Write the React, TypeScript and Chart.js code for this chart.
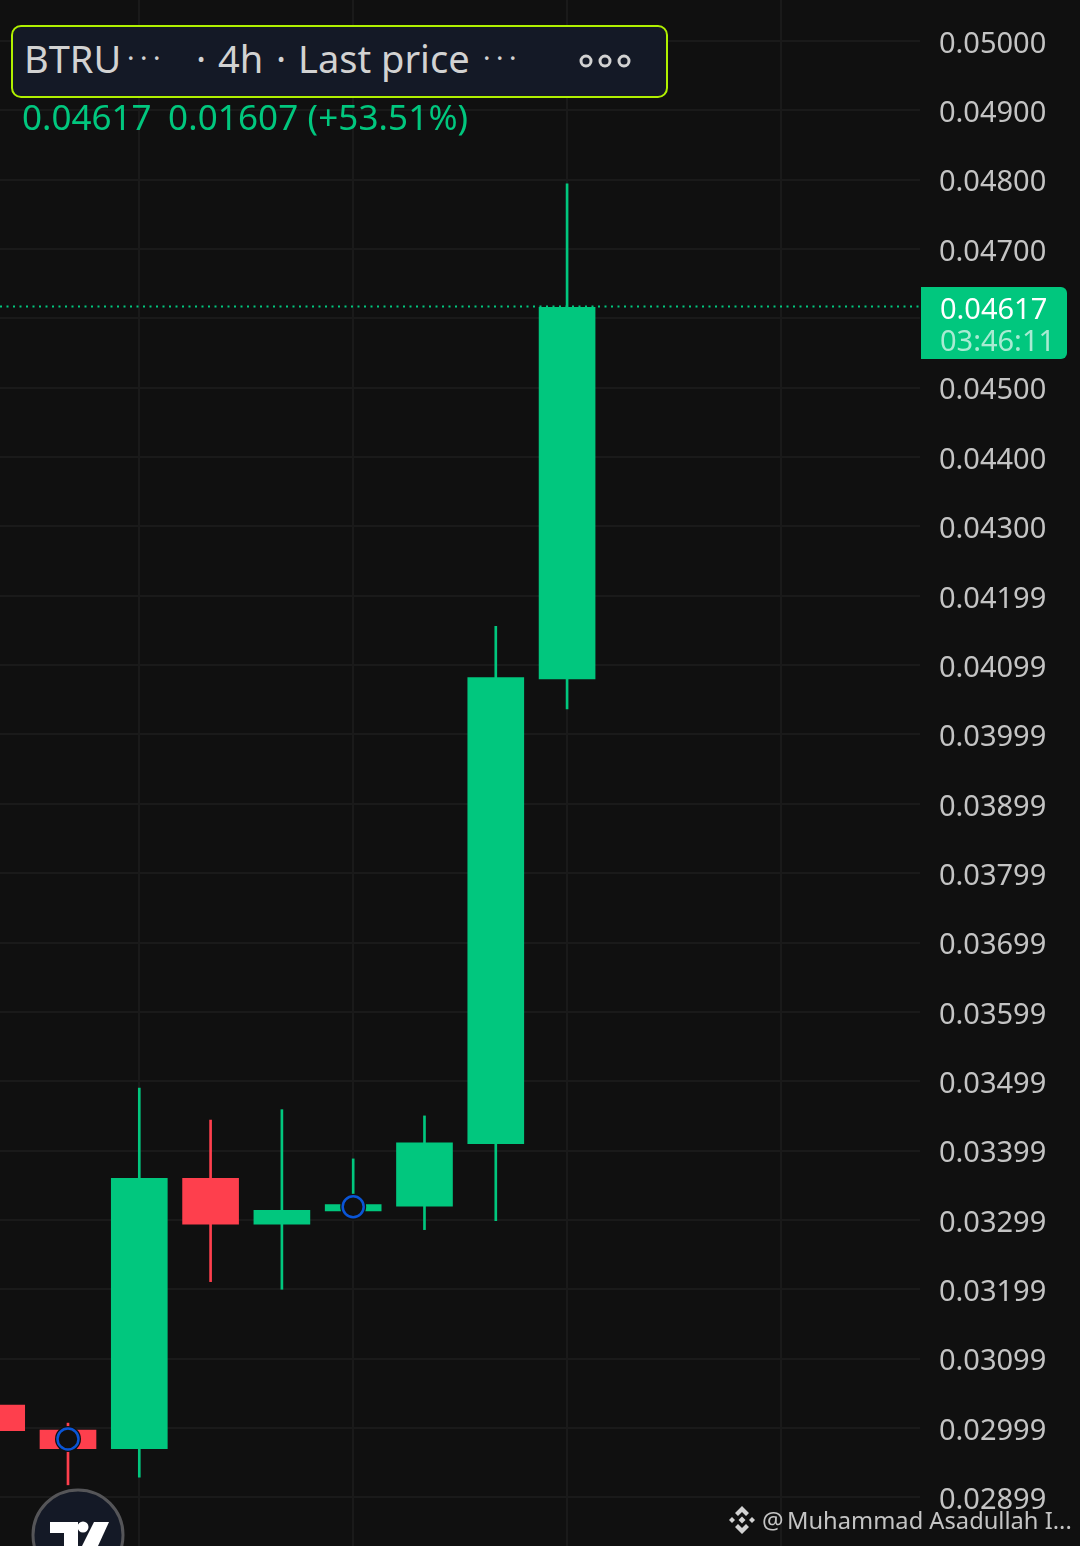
import React, { useEffect, useRef } from "react";
import { Chart, registerables } from "chart.js";

Chart.register(...registerables);

const xs = [-1, 0, 1, 2, 3, 4, 5, 6, 7];
const opens = [0.03033, 0.02997, 0.0297, 0.0336, 0.03294, 0.03313, 0.0332, 0.0341, 0.0408];
const closes = [0.02996, 0.0297, 0.0336, 0.03294, 0.03314, 0.03322, 0.03411, 0.04082, 0.04616];
const highs = [0.03033, 0.03007, 0.0349, 0.03444, 0.03459, 0.03388, 0.0345, 0.04156, 0.04794];
const lows = [0.02996, 0.02918, 0.02929, 0.03211, 0.032, 0.03313, 0.03286, 0.03299, 0.04037];
const markerXs = [0, 4];
const markerYs = [0.02984, 0.03319];
const lastPrice = 0.04617;
const gridXs = [1, 4, 7, 10];
const tickValues = [
  0.05, 0.049, 0.048, 0.047, 0.046, 0.045, 0.044, 0.043, 0.042, 0.041, 0.04, 0.039, 0.038, 0.037,
  0.036, 0.035, 0.034, 0.033, 0.032, 0.031, 0.03, 0.029,
];
const tickLabels = [
  "0.05000", "0.04900", "0.04800", "0.04700", "", "0.04500", "0.04400", "0.04300", "0.04199",
  "0.04099", "0.03999", "0.03899", "0.03799", "0.03699", "0.03599", "0.03499", "0.03399",
  "0.03299", "0.03199", "0.03099", "0.02999", "0.02899",
];

const UP = "#01C77E";
const DOWN = "#FE3F4D";
const BG = "#101010";
const GRID = "#1A1A1A";
const FONT = '"Noto Sans", sans-serif';
const X_MIN = -0.9537;
const X_MAX = 11.95;

const abs = (s: React.CSSProperties): React.CSSProperties => ({
  position: "absolute",
  whiteSpace: "pre",
  fontFamily: FONT,
  ...s,
});

const noPadding = (s: any) => {
  s.paddingTop = 0;
  s.paddingBottom = 0;
  s.paddingLeft = 0;
  s.paddingRight = 0;
};

export default function App() {
  const ref = useRef<HTMLCanvasElement>(null);

  useEffect(() => {
    document.body.style.margin = "0";
    document.body.style.background = BG;
    const colors = xs.map((_, i) => (closes[i] >= opens[i] ? UP : DOWN));
    const chart = new Chart(ref.current!, {
      type: "bar",
      data: {
        datasets: [
          {
            type: "scatter",
            order: 0,
            data: markerXs.map((x, i) => ({ x, y: markerYs[i] })),
            pointRadius: 10.5,
            pointBorderWidth: 2.5,
            pointBorderColor: "#0A55D6",
            pointBackgroundColor: BG,
          },
          {
            type: "scatter",
            order: 1,
            data: markerXs.map((x, i) => ({ x, y: markerYs[i] })),
            pointRadius: 13,
            pointBorderWidth: 0,
            pointBackgroundColor: BG,
          },
          {
            type: "scatter",
            order: 2,
            showLine: true,
            data: [
              { x: X_MIN, y: lastPrice },
              { x: X_MAX, y: lastPrice },
            ],
            pointRadius: 0,
            borderColor: UP,
            borderWidth: 2,
            borderDash: [2, 4.5],
          },
          {
            type: "bar",
            order: 3,
            grouped: false,
            barThickness: 56,
            data: xs.map((x, i) => ({ x, y: [opens[i], closes[i]] })),
            backgroundColor: colors,
          },
          {
            type: "bar",
            order: 4,
            grouped: false,
            barThickness: 2,
            data: xs.map((x, i) => ({ x, y: [lows[i], highs[i]] })),
            backgroundColor: colors,
          },
        ] as any,
      },
      options: {
        responsive: false,
        animation: false,
        layout: { padding: 0, autoPadding: false },
        plugins: { legend: { display: false }, tooltip: { enabled: false } },
        scales: {
          x: {
            type: "linear",
            min: X_MIN,
            max: X_MAX,
            offset: false,
            border: { display: false },
            grid: { color: GRID, lineWidth: 2, offset: false, drawTicks: false },
            ticks: { display: false },
            afterBuildTicks: (s: any) => {
              s.ticks = gridXs.map((value) => ({ value }));
            },
            afterFit: (s: any) => {
              s.height = 0;
              noPadding(s);
            },
          },
          y: {
            type: "linear",
            position: "right",
            min: 0.028298,
            max: 0.050591,
            border: { display: false },
            grid: { color: GRID, lineWidth: 2, drawTicks: false },
            ticks: {
              autoSkip: false,
              padding: 19,
              crossAlign: "near",
              color: "#C4C4C4",
              font: { family: FONT, size: 29 },
              callback: (_v: any, i: number) => tickLabels[i],
            },
            afterBuildTicks: (s: any) => {
              s.ticks = tickValues.map((value) => ({ value }));
              if (!s.__shifted) {
                s.__shifted = true;
                const orig = s._computeLabelItems.bind(s);
                s._computeLabelItems = (area: any) =>
                  orig(area).map((it: any) => ({ ...it, textOffset: it.textOffset + 3.5 }));
              }
            },
            afterFit: (s: any) => {
              s.width = 160;
              noPadding(s);
            },
          },
        },
      } as any,
    });
    return () => chart.destroy();
  }, []);

  const title = { fontSize: 38, lineHeight: "52px", color: "#D2D2D2", top: 32 };
  const dots = { fontSize: 28, lineHeight: "40px", color: "#D2D2D2", letterSpacing: 5.5, top: 37 };
  const price = { top: 93, fontSize: 35, lineHeight: "48px", color: UP };

  return (
    <div style={{ position: "fixed", left: 0, top: 0, width: 1080, height: 1546, overflow: "hidden", background: BG }}>
      <canvas ref={ref} width={1080} height={1546} style={{ display: "block", width: 1080, height: 1546 }} />

      <div
        style={{
          position: "absolute",
          left: 11,
          top: 25,
          width: 653,
          height: 69,
          background: "#141926",
          border: "2px solid #B0F000",
          borderRadius: 10,
        }}
      />
      <span style={abs({ ...title, left: 24 })}>BTRU</span>
      <span style={abs({ ...dots, left: 127 })}>···</span>
      <span style={abs({ ...title, left: 196 })}>·</span>
      <span style={abs({ ...title, left: 218 })}>4h</span>
      <span style={abs({ ...title, left: 276 })}>·</span>
      <span style={abs({ ...title, left: 298 })}>Last price</span>
      <span style={abs({ ...dots, left: 483 })}>···</span>
      <svg style={{ position: "absolute", left: 575, top: 50 }} width={62} height={22}>
        {[11, 30, 49].map((cx) => (
          <circle key={cx} cx={cx} cy={11} r={5} fill="none" stroke="#D2D2D2" strokeWidth={3} />
        ))}
      </svg>

      <span style={abs({ ...price, left: 22 })}>0.04617</span>
      <span style={abs({ ...price, left: 168, letterSpacing: 0.12 })}>0.01607 (+53.51%)</span>

      <div
        style={{
          position: "absolute",
          left: 921,
          top: 287,
          width: 146,
          height: 72,
          background: UP,
          borderRadius: "0 6px 6px 0",
        }}
      />
      <span style={abs({ left: 940, top: 288, fontSize: 29, lineHeight: "40px", color: "#FFFFFF" })}>0.04617</span>
      <span style={abs({ left: 940, top: 320, fontSize: 29, lineHeight: "40px", color: "#A8EBD2" })}>03:46:11</span>

      <svg style={{ position: "absolute", left: 30, top: 1486 }} width={98} height={60}>
        <circle cx={48} cy={49} r={45} fill="#141926" stroke="#555558" strokeWidth={3} />
        <path d="M20 36 H48 V60 H34 V47 H20 Z" fill="#FFFFFF" />
        <circle cx={53} cy={41} r={5.5} fill="#FFFFFF" />
        <path d="M64 36 H79 L68 60 H52 Z" fill="#FFFFFF" />
      </svg>

      <svg style={{ position: "absolute", left: 728, top: 1506 }} width={28} height={28} viewBox="0 0 28 28">
        <g fill="#D2D2D2">
          <path d="M14 0 L21 7 L18 10 L14 6 L10 10 L7 7 Z" />
          <path d="M14 28 L21 21 L18 18 L14 22 L10 18 L7 21 Z" />
          <path d="M14 10.5 L17.5 14 L14 17.5 L10.5 14 Z" />
          <path d="M4 11 L7 14 L4 17 L1 14 Z" />
          <path d="M24 11 L27 14 L24 17 L21 14 Z" />
        </g>
      </svg>
      <span style={abs({ left: 762, top: 1503, fontSize: 24, lineHeight: "34px", color: "#C4C4C4" })}>@</span>
      <span style={abs({ left: 787, top: 1503, fontSize: 23.7, lineHeight: "34px", color: "#C4C4C4" })}>Muhammad Asadullah I...</span>
    </div>
  );
}
